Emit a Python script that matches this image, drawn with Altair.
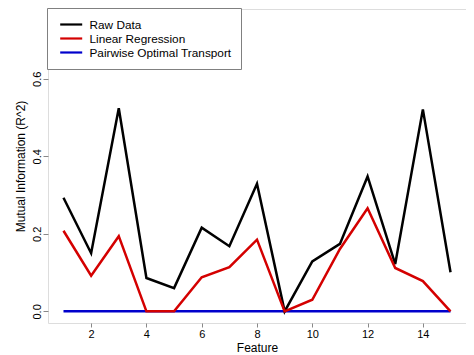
import altair as alt
import pandas as pd

features = list(range(1, 16))
raw_data = [0.293, 0.150, 0.524, 0.086, 0.060, 0.216, 0.168, 0.329, 0.0,
            0.129, 0.174, 0.348, 0.122, 0.521, 0.101]
linear_regression = [0.208, 0.092, 0.194, 0.0, 0.0, 0.088, 0.114, 0.185, 0.0,
                     0.030, 0.161, 0.266, 0.112, 0.078, 0.0]
pairwise_ot = [0.0, 0.0, 0.0, 0.0, 0.0, 0.0, 0.0, 0.0, 0.0,
               0.0, 0.0, 0.0, 0.0, 0.0, 0.0]

series_names = ["Raw Data", "Linear Regression", "Pairwise Optimal Transport"]
series_colors = ["#000000", "#D40000", "#0000CC"]
x_ticks = [2, 4, 6, 8, 10, 12, 14]
y_ticks = [0.0, 0.2, 0.4, 0.6]

rows = []
for name, vals, order in [("Pairwise Optimal Transport", pairwise_ot, 0),
                          ("Raw Data", raw_data, 1),
                          ("Linear Regression", linear_regression, 2)]:
    for f, v in zip(features, vals):
        rows.append({"Feature": f, "Value": v, "Series": name, "ord": order})
df = pd.DataFrame(rows)

font = "Liberation Sans"

chart = alt.Chart(df).mark_line(strokeWidth=2.5, clip=True).encode(
    x=alt.X("Feature:Q",
            scale=alt.Scale(domain=[0.44, 15.56], nice=False, zero=False),
            axis=alt.Axis(values=x_ticks, title="Feature", grid=False, domain=False,
                          tickColor="#888888", tickSize=4, labelPadding=1,
                          labelFontSize=11, titleFontSize=12, titlePadding=3,
                          labelColor="#000000", titleColor="#000000",
                          titleFontWeight="normal", labelFont=font, titleFont=font)),
    y=alt.Y("Value:Q",
            scale=alt.Scale(domain=[-0.03, 0.78], nice=False, zero=False),
            axis=alt.Axis(values=y_ticks, format=".1f", title="Mutual Information (R^2)",
                          grid=False, domain=False, tickColor="#888888", tickSize=5,
                          labelAngle=-90, labelAlign="center", labelBaseline="bottom",
                          labelPadding=1, labelFontSize=11, titleFontSize=12,
                          titlePadding=4, labelColor="#000000", titleColor="#000000",
                          titleFontWeight="normal", labelFont=font, titleFont=font)),
    color=alt.Color("Series:N",
                    scale=alt.Scale(domain=series_names, range=series_colors),
                    legend=alt.Legend(title=None, orient="none", legendX=-1, legendY=-1,
                                      symbolType="M-0.6,0H3.4", symbolSize=121,
                                      symbolStrokeWidth=2.2, symbolOffset=0,
                                      labelFontSize=11.8, labelFont=font, labelOffset=19,
                                      labelColor="#000000",
                                      strokeColor="#808080", fillColor="#FFFFFF",
                                      padding=9.5, rowPadding=0)),
    order=alt.Order("ord:Q"),
    detail="Series:N",
).properties(
    width=418, height=314,
    autosize=alt.AutoSizeParams(type="none"),
    padding={"left": 40, "top": 1, "right": 0, "bottom": 40},
).configure_view(
    stroke="#888888", strokeWidth=1
).configure(background="#FFFFFF")

chart.save("out.html", embed_options={"renderer": "svg", "actions": False})
